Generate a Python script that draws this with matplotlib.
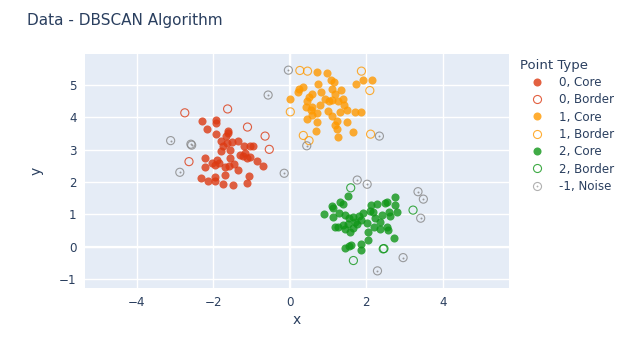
import matplotlib
matplotlib.use("Agg")
import matplotlib.pyplot as plt
from matplotlib.lines import Line2D
import numpy as np

# ---- data ----
c0_core_x = [-2.31, -1.94, -1.94, -2.16, -1.94, -1.61, -1.61, -1.66, -1.81, -1.52, -1.35, -1.76, -1.19,
             -1.05, -0.96, -1.79, -1.57, -1.18, -1.22, -1.05, -2.22, -1.92, -1.57, -1.13, -0.87, -1.96,
             -1.70, -1.59, -0.70, -2.22, -1.37, -1.96, -1.70, -1.07, -2.33, -2.14, -1.96, -1.74, -1.50,
             -1.13, -1.30, -1.85, -1.45, -2.05, -1.65]
c0_core_y = [3.89, 3.92, 3.83, 3.63, 3.48, 3.59, 3.51, 3.42, 3.28, 3.25, 3.27, 3.11, 3.12,
             3.12, 3.11, 2.97, 2.99, 2.89, 2.80, 2.76, 2.73, 2.68, 2.73, 2.73, 2.64, 2.53,
             2.45, 2.49, 2.49, 2.45, 2.37, 2.16, 2.22, 2.20, 2.11, 2.04, 2.04, 1.94, 1.91,
             1.98, 2.85, 2.60, 2.55, 2.60, 3.20]
c0_border_x = [-2.75, -1.63, -1.11, -0.65, -0.54, -2.64]
c0_border_y = [4.14, 4.26, 3.70, 3.42, 3.01, 2.63]

c1_core_x = [0.71, 0.98, 1.07, 1.16, 1.72, 1.90, 2.14, 0.74, 0.24, 0.33, 0.22, 0.82, 1.11, 1.34, 1.18,
             0.59, 0.51, 0.00, 0.44, 0.92, 1.03, 1.09, 1.38, 1.25, 0.78, 0.57, 0.42, 1.42, 1.50, 1.70,
             1.87, 1.31, 1.00, 0.71, 0.59, 1.09, 0.45, 0.72, 1.22, 1.50, 1.18, 1.22, 0.68, 1.66, 1.26,
             0.55]
c1_core_y = [5.40, 5.36, 5.17, 5.08, 5.02, 5.17, 5.17, 5.03, 4.87, 4.93, 4.79, 4.78, 4.87, 4.84, 4.71,
             4.71, 4.64, 4.58, 4.52, 4.56, 4.51, 4.54, 4.56, 4.50, 4.38, 4.33, 4.31, 4.38, 4.23, 4.17,
             4.17, 4.17, 4.19, 4.12, 4.07, 4.04, 3.94, 3.86, 3.89, 3.85, 3.76, 3.63, 3.59, 3.56, 3.38,
             4.23]
c1_border_x = [0.26, 0.46, 1.87, 2.09, 0.01, 0.35, 0.50, 2.11]
c1_border_y = [5.45, 5.43, 5.43, 4.83, 4.17, 3.44, 3.28, 3.48]

c2_core_x = [1.51, 1.32, 1.38, 1.09, 1.13, 0.89, 1.13, 1.29, 1.44, 1.55, 1.66, 1.81, 1.87, 1.70, 1.53,
             1.39, 1.26, 1.18, 1.57, 1.66, 2.01, 2.05, 2.09, 2.13, 2.28, 2.48, 2.53, 2.75, 2.75, 2.58,
             2.79, 2.40, 2.61, 2.22, 2.35, 2.53, 2.35, 2.57, 2.73, 2.03, 1.86, 1.61, 1.55, 1.44, 1.87,
             1.92, 2.18, 1.75, 2.20, 1.45]
c2_core_y = [1.57, 1.39, 1.32, 1.26, 1.19, 1.01, 0.93, 1.05, 0.98, 0.88, 0.93, 0.95, 0.83, 0.77, 0.70,
             0.67, 0.60, 0.60, 0.46, 0.57, 0.72, 0.46, 1.11, 1.29, 1.32, 1.34, 1.39, 1.55, 1.29, 1.08,
             1.08, 0.98, 0.95, 0.88, 0.77, 0.62, 0.54, 0.52, 0.26, 0.21, 0.08, 0.05, 0.02, -0.03, -0.10,
             1.03, 1.08, 0.70, 0.60, 0.55]
c2_border_x = [1.59, 3.22, 2.44, 2.46, 1.66]
c2_border_y = [1.82, 1.13, -0.07, -0.06, -0.43]

noise_x = [-0.57, -3.12, -2.57, -2.59, -2.88, -0.15, 0.44, -0.04, 2.34, 1.76, 2.02, 3.35, 3.49, 3.42,
           2.96, 2.29]
noise_y = [4.69, 3.28, 3.14, 3.17, 2.30, 2.27, 3.12, 5.46, 3.42, 2.06, 1.93, 1.70, 1.47, 0.88,
           -0.34, -0.75]

labels = ["0, Core", "0, Border", "1, Core", "1, Border", "2, Core", "2, Border", "-1, Noise"]
RED, ORANGE, GREEN, GREY = "#DC3912", "#FF9900", "#109618", "#858585"
TXT = "#2a3f5f"

plt.rcParams['font.family'] = ['DejaVu Sans']
fig = plt.figure(figsize=(6.4, 3.6), dpi=100)
ax = fig.add_axes([85/640, 1-288/360, (509-85)/640, (288-54)/360])
ax.set_facecolor("#E5ECF6")
for s in ax.spines.values():
    s.set_visible(False)

S = 34
A = 0.8
ax.scatter(c0_core_x, c0_core_y, s=S, color=RED, alpha=A, lw=0, zorder=3)
ax.scatter(c0_border_x, c0_border_y, s=S, facecolors='none', edgecolors=RED, alpha=A, lw=0.8, zorder=3)
ax.scatter(c1_core_x, c1_core_y, s=S, color=ORANGE, alpha=A, lw=0, zorder=3)
ax.scatter(c1_border_x, c1_border_y, s=S, facecolors='none', edgecolors=ORANGE, alpha=A, lw=0.8, zorder=3)
ax.scatter(c2_core_x, c2_core_y, s=S, color=GREEN, alpha=A, lw=0, zorder=3)
ax.scatter(c2_border_x, c2_border_y, s=S, facecolors='none', edgecolors=GREEN, alpha=A, lw=0.8, zorder=3)
ax.scatter(noise_x, noise_y, s=S, facecolors='none', edgecolors=GREY, alpha=A, lw=0.8, zorder=3)
ax.scatter(noise_x, noise_y, s=2, color=GREY, alpha=A, lw=0, zorder=3)

ax.set_xlim(-5.36, 5.73)
ax.set_ylim(-1.28, 5.96)
ax.set_xticks([-4, -2, 0, 2, 4])
ax.set_yticks([-1, 0, 1, 2, 3, 4, 5])
ax.grid(True, color="white", lw=1)
ax.set_axisbelow(True)
ax.axhline(0, color="white", lw=1.6, zorder=1)
ax.axvline(0, color="white", lw=1.6, zorder=1)
ax.tick_params(length=0, labelsize=8.6, labelcolor=TXT, pad=6)
ax.set_xlabel("x", fontsize=10, color=TXT, labelpad=3)
ax.set_ylabel("y", fontsize=10, color=TXT, labelpad=11)

fig.text(27/640, 1-20/360, "Data - DBSCAN Algorithm", fontsize=11, color=TXT, va="center", ha="left")

ms = 5.8
handles = [
    Line2D([], [], ls='none', marker='o', ms=ms, mfc=RED, mec='none', alpha=A),
    Line2D([], [], ls='none', marker='o', ms=ms, mfc='none', mec=RED, mew=0.8, alpha=A),
    Line2D([], [], ls='none', marker='o', ms=ms, mfc=ORANGE, mec='none', alpha=A),
    Line2D([], [], ls='none', marker='o', ms=ms, mfc='none', mec=ORANGE, mew=0.8, alpha=A),
    Line2D([], [], ls='none', marker='o', ms=ms, mfc=GREEN, mec='none', alpha=A),
    Line2D([], [], ls='none', marker='o', ms=ms, mfc='none', mec=GREEN, mew=0.8, alpha=A),
    (Line2D([], [], ls='none', marker='o', ms=ms, mfc='none', mec="#b0b0b0", mew=0.8),
     Line2D([], [], ls='none', marker='o', ms=1.3, mfc="#b0b0b0", mec='none')),
]
leg = fig.legend(handles, labels, loc="upper left", bbox_to_anchor=(515/640, 1-54/360),
                 frameon=False, title="Point Type", fontsize=8.6, title_fontsize=9.5,
                 labelcolor=TXT, handlelength=2.9, handletextpad=0.35, labelspacing=0.36,
                 borderaxespad=0, alignment="left")
leg.get_title().set_color(TXT)

fig.savefig("out.png", dpi=100)
